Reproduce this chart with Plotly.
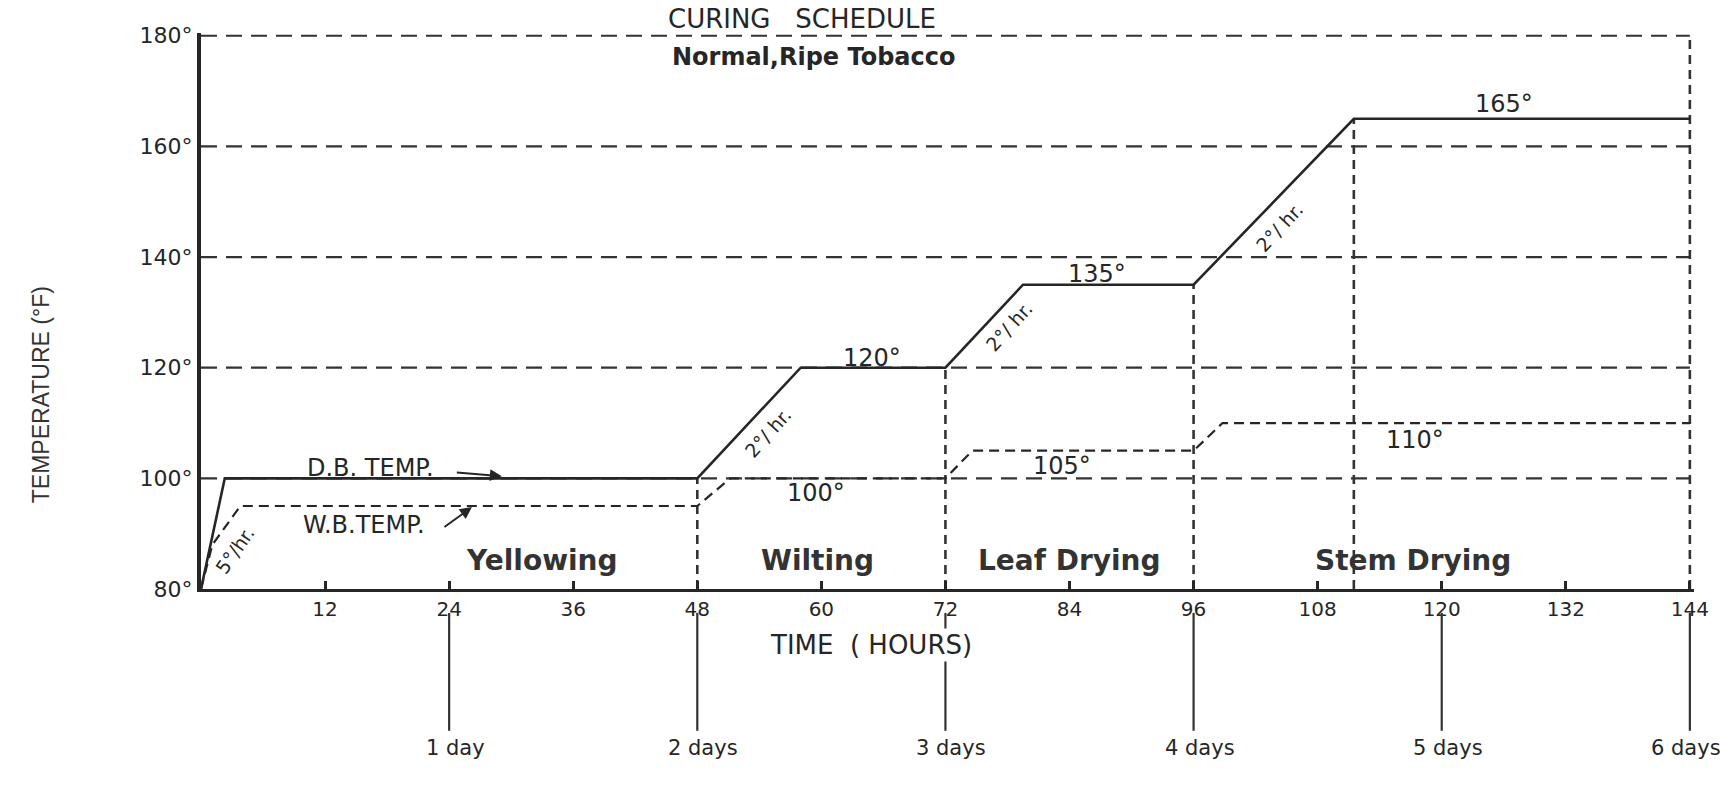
import plotly.graph_objects as go

# ---------------- data ----------------
db_hours = [0, 2.3, 48, 58, 72, 79.5, 96, 111.5, 144]
db_temps = [80, 100, 100, 120, 120, 135, 135, 165, 165]

wb_hours = [0, 1.1, 3.8, 48, 51.2, 72, 74.6, 96, 98.8, 144]
wb_temps = [80, 88, 95, 95, 100, 100, 105, 105, 110, 110]

grid_temps = [100, 120, 140, 160, 180]
phase_hours = [48, 72, 96, 111.5, 144]
phase_tops = [100, 120, 135, 165, 180]

phase_names = ["Yellowing", "Wilting", "Leaf Drying", "Stem Drying"]
phase_label_hours = [33.0, 59.6, 84.0, 117.2]

hour_ticks = [12, 24, 36, 48, 60, 72, 84, 96, 108, 120, 132, 144]
temp_ticks = [80, 100, 120, 140, 160, 180]
temp_tick_text = ["80°", "100°", "120°", "140°", "160°", "180°"]

day_hours = [24, 48, 72, 96, 120, 144]
day_labels = ["1 day", "2 days", "3 days", "4 days", "5 days", "6 days"]

set_labels = ["165°", "135°", "120°", "100°", "105°", "110°"]
set_label_hours = [126.0, 86.7, 64.9, 59.5, 83.3, 117.4]
set_label_temps = [167.6, 136.9, 121.8, 97.4, 102.3, 106.9]

rate_labels = ["5°/hr.", "2°/ hr.", "2°/ hr.", "2°/ hr."]
rate_hours = [3.3, 54.8, 78.1, 104.3]
rate_temps = [87.0, 108.2, 127.4, 145.5]
rate_angles = [-55, -48, -48, -47]

INK = "#262626"
DRAFT_FONT = "DejaVu Sans"

X_MAX = 144.4
Y_MAX = 180.5

fig = go.Figure()

# horizontal dashed grid
gx, gy = [], []
for t in grid_temps:
    gx += [0, 144, None]
    gy += [t, t, None]
fig.add_trace(go.Scatter(x=gx, y=gy, mode="lines",
                         line=dict(color="#333333", width=2.2, dash="16px,9px"),
                         hoverinfo="skip", showlegend=False))

# vertical dashed phase boundaries
vx, vy = [], []
for h, top in zip(phase_hours, phase_tops):
    vx += [h, h, None]
    vy += [80, top, None]
fig.add_trace(go.Scatter(x=vx, y=vy, mode="lines",
                         line=dict(color="#333333", width=2.6, dash="9px,6px"),
                         hoverinfo="skip", showlegend=False))

# wet bulb
fig.add_trace(go.Scatter(x=wb_hours, y=wb_temps, mode="lines",
                         line=dict(color=INK, width=2.2, dash="10px,6px"),
                         name="W.B. TEMP.", showlegend=False))
# dry bulb
fig.add_trace(go.Scatter(x=db_hours, y=db_temps, mode="lines",
                         line=dict(color=INK, width=2.6),
                         name="D.B. TEMP.", showlegend=False))

ann = []
# title lines
ann.append(dict(x=0.4023, y=1.0253, xref="paper", yref="paper", text="CURING   SCHEDULE",
                xanchor="center", yanchor="middle", showarrow=False,
                font=dict(family=DRAFT_FONT, size=26, color=INK)))
ann.append(dict(x=59.2, y=176.2, xref="x", yref="y", text="<b>Normal,Ripe Tobacco</b>",
                xanchor="center", yanchor="middle", showarrow=False,
                font=dict(family=DRAFT_FONT, size=24, color=INK)))

# set point labels
for t, h, v in zip(set_labels, set_label_hours, set_label_temps):
    ann.append(dict(x=h, y=v, xref="x", yref="y", text=t, showarrow=False,
                    xanchor="center", yanchor="middle",
                    font=dict(family=DRAFT_FONT, size=24, color=INK)))

# rate labels
for t, h, v, a in zip(rate_labels, rate_hours, rate_temps, rate_angles):
    ann.append(dict(x=h, y=v, xref="x", yref="y", text=t, showarrow=False, textangle=a,
                    xanchor="center", yanchor="middle",
                    font=dict(family=DRAFT_FONT, size=19, color=INK)))

# phase names
for t, h in zip(phase_names, phase_label_hours):
    ann.append(dict(x=h, y=85.1, xref="x", yref="y", text="<b>" + t + "</b>", showarrow=False,
                    xanchor="center", yanchor="middle",
                    font=dict(family=DRAFT_FONT, size=28, color="#333333")))

# curve labels and arrows
ann.append(dict(x=16.4, y=101.9, xref="x", yref="y", text="D.B. TEMP.", showarrow=False,
                xanchor="center", yanchor="middle",
                font=dict(family=DRAFT_FONT, size=24, color=INK)))
ann.append(dict(x=15.8, y=91.6, xref="x", yref="y", text="W.B.TEMP.", showarrow=False,
                xanchor="center", yanchor="middle",
                font=dict(family=DRAFT_FONT, size=24, color=INK)))
ann.append(dict(x=29.1, y=100.4, ax=24.6, ay=101.1, xref="x", yref="y", axref="x", ayref="y",
                text="", showarrow=True, arrowhead=2, arrowsize=1.2, arrowwidth=2, arrowcolor=INK))
ann.append(dict(x=26.2, y=94.8, ax=23.4, ay=91.0, xref="x", yref="y", axref="x", ayref="y",
                text="", showarrow=True, arrowhead=2, arrowsize=1.2, arrowwidth=2, arrowcolor=INK))

# axis titles
ann.append(dict(x=64.8, y=-0.101, xref="x", yref="paper", text="TIME  ( HOURS)", showarrow=False,
                xanchor="center", yanchor="middle", bgcolor="white",
                font=dict(family=DRAFT_FONT, size=26, color=INK)))
ann.append(dict(x=-0.107, y=0.349, xref="paper", yref="paper", text="TEMPERATURE (°F)",
                xanchor="center", yanchor="middle", showarrow=False, textangle=-90,
                font=dict(family="Liberation Sans Narrow, Liberation Sans", size=23, color="#333333")))

# day labels (last one kept inside the page edge)
for i, (h, t) in enumerate(zip(day_hours, day_labels)):
    last = i == len(day_hours) - 1
    ann.append(dict(x=h, y=-0.2857, xref="x", yref="paper", text=t, showarrow=False,
                    xanchor="right" if last else "center", yanchor="middle",
                    xshift=33 if last else 6,
                    font=dict(family=DRAFT_FONT, size=21, color=INK)))

shapes = []
for h in day_hours:
    shapes.append(dict(type="line", xref="x", yref="paper", x0=h, x1=h, y0=-0.043, y1=-0.255,
                       line=dict(color="#333333", width=2.2)))

# keep 0..144 h mapped to 201..1690 px and 80..180 F to 589..36 px
plot_w = 1489 * X_MAX / 144
plot_h = 553 * (Y_MAX - 80) / 100
fig.update_layout(
    width=1726, height=785,
    margin=dict(l=201, r=round(1726 - 201 - plot_w), t=round(589 - plot_h), b=196),
    paper_bgcolor="white", plot_bgcolor="white",
    annotations=ann, shapes=shapes,
    xaxis=dict(range=[0, X_MAX], tickvals=hour_ticks, ticktext=[str(v) for v in hour_ticks],
               ticks="inside", ticklen=8, tickwidth=2.5, tickcolor=INK,
               showline=True, linewidth=3, linecolor=INK, showgrid=False, zeroline=False,
               tickfont=dict(family=DRAFT_FONT, size=20, color=INK)),
    yaxis=dict(range=[80, Y_MAX], tickvals=temp_ticks, ticktext=temp_tick_text,
               ticks="", showline=True, linewidth=4, linecolor=INK, showgrid=False, zeroline=False,
               tickfont=dict(family=DRAFT_FONT, size=22, color=INK)),
)

fig.write_html("out.html")
